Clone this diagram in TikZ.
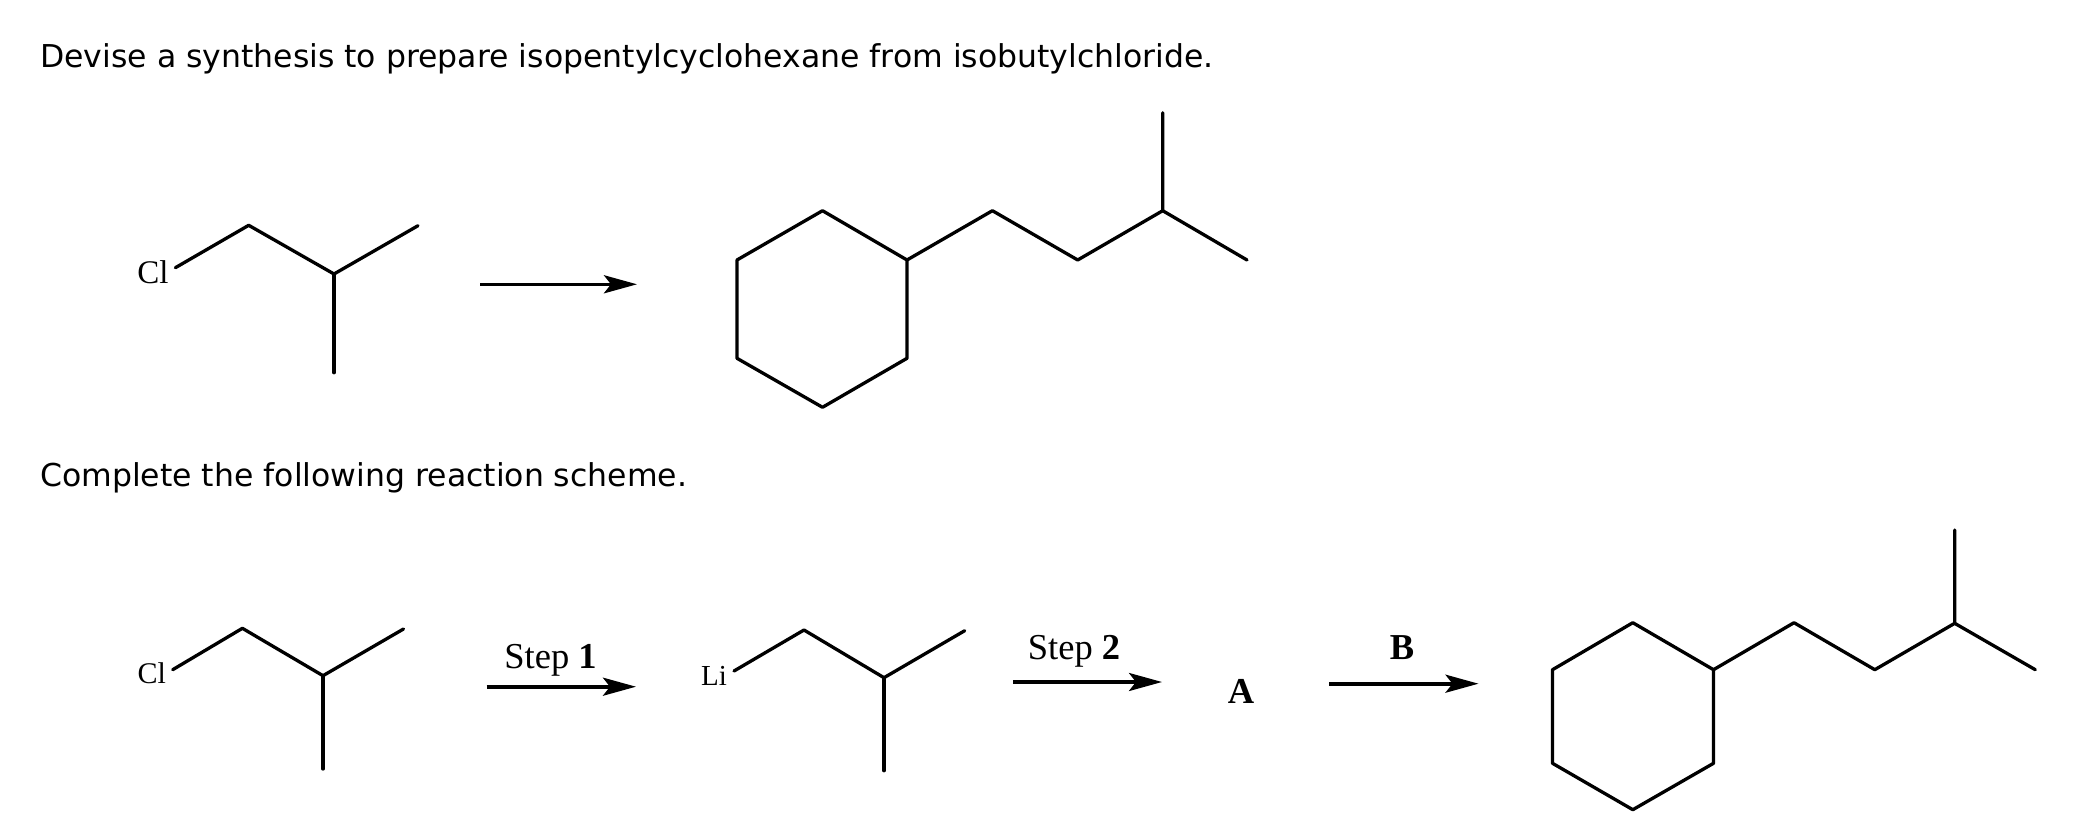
\documentclass[tikz,border=0pt]{standalone}
\usepackage{fontspec}
\setmainfont{Liberation Serif}
\newfontfamily\headfont{DejaVu Sans}
\usetikzlibrary{arrows.meta}
\tikzset{
  bond/.style={line width=3.3pt,line cap=round,line join=round},
  rxn/.style={line width=3.6pt,-{Stealth[length=33pt,width=18pt,inset=7pt]}},
  head/.style={anchor=base west,inner sep=0pt,font=\headfont\fontsize{31.5}{36}\selectfont},
  atom/.style={anchor=base,inner sep=0pt,font=\fontsize{#1}{#1}\selectfont},
  over/.style={anchor=base,inner sep=0pt,font=\fontsize{36.5}{40}\selectfont}
}
\begin{document}
\begin{tikzpicture}[x=1pt,y=-1pt]
  \useasboundingbox (0,0) rectangle (2080,837);
  \node[head] (title) at (40,68) {Devise a synthesis to prepare isopentylcyclohexane from isobutylchloride.};
  \node[head] (task) at (40,486) {Complete the following reaction scheme.};

  % starting chloride
  \node[atom=33] (cl) at (153,283) {Cl};
  \coordinate (c1) at (175.4,267.7);
  \coordinate (c2) at (248.7,225.3);
  \coordinate (c3) at (334,274);
  \coordinate (c4) at (418,225.7);
  \coordinate (c5) at (334,372.7);
  \draw[bond] (c1) -- (c2) -- (c3) -- (c4);
  \draw[bond] (c3) -- (c5);
  \coordinate (a1) at (480,284.3);
  \coordinate (a2) at (637,284.3);
  \draw[rxn] (a1) -- (a2);

  % target
  \coordinate (r1) at (822.5,210.7);
  \coordinate (r2) at (907,260);
  \coordinate (r3) at (907,358.3);
  \coordinate (r4) at (822.5,407.3);
  \coordinate (r5) at (737,358.3);
  \coordinate (r6) at (737,260);
  \coordinate (t1) at (992.4,210.7);
  \coordinate (t2) at (1077.7,260);
  \coordinate (t3) at (1162.7,210.7);
  \coordinate (t4) at (1162.7,112.7);
  \coordinate (t5) at (1247,260);
  \draw[bond] (r1) -- (r2) -- (r3) -- (r4) -- (r5) -- (r6) -- cycle;
  \draw[bond] (r2) -- (t1) -- (t2) -- (t3) -- (t4);
  \draw[bond] (t3) -- (t5);

  % scheme, chloride
  \node[atom=30] (cll) at (151.7,683) {Cl};
  \coordinate (d1) at (172.7,669.7);
  \coordinate (d2) at (242.4,628.3);
  \coordinate (d3) at (323,675.7);
  \coordinate (d4) at (403.5,629);
  \coordinate (d5) at (323,769);
  \draw[bond] (d1) -- (d2) -- (d3) -- (d4);
  \draw[bond] (d3) -- (d5);
  \coordinate (b1) at (486.5,686.7);
  \coordinate (b2) at (636,686.7);
  \draw[rxn] (b1) -- (b2);
  \node[over] (s1) at (550.5,668) {Step \textbf{1}};

  % scheme, lithium
  \node[atom=29] (li) at (714,685) {Li};
  \coordinate (e1) at (734,671);
  \coordinate (e2) at (804,630);
  \coordinate (e3) at (884,677.7);
  \coordinate (e4) at (964.7,630.7);
  \coordinate (e5) at (884,770.7);
  \draw[bond] (e1) -- (e2) -- (e3) -- (e4);
  \draw[bond] (e3) -- (e5);
  \coordinate (g1) at (1013,682);
  \coordinate (g2) at (1162,682);
  \draw[rxn] (g1) -- (g2);
  \node[over] (s2) at (1074,659) {Step \textbf{2}};
  \node[over] (pa) at (1241,703) {\textbf{A}};
  \coordinate (h1) at (1329,683.7);
  \coordinate (h2) at (1478.5,683.7);
  \draw[rxn] (h1) -- (h2);
  \node[over] (pb) at (1402,659) {\textbf{B}};

  % scheme, product
  \coordinate (q1) at (1632.8,622.7);
  \coordinate (q2) at (1713.5,669.7);
  \coordinate (q3) at (1713.5,763.3);
  \coordinate (q4) at (1632.8,809.7);
  \coordinate (q5) at (1552.5,763.3);
  \coordinate (q6) at (1552.5,669.7);
  \coordinate (p1) at (1794,622.7);
  \coordinate (p2) at (1874.8,669.7);
  \coordinate (p3) at (1954.7,623.3);
  \coordinate (p4) at (1954.7,530);
  \coordinate (p5) at (2035.3,669.7);
  \draw[bond] (q1) -- (q2) -- (q3) -- (q4) -- (q5) -- (q6) -- cycle;
  \draw[bond] (q2) -- (p1) -- (p2) -- (p3) -- (p4);
  \draw[bond] (p3) -- (p5);
\end{tikzpicture}
\end{document}
